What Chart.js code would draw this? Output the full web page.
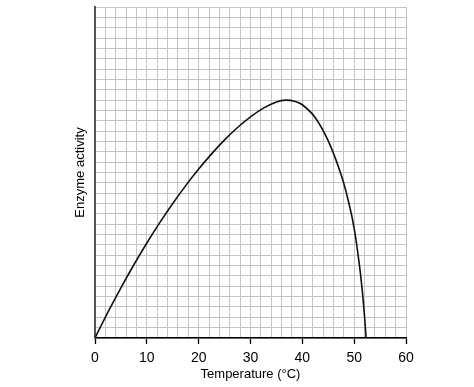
<!DOCTYPE html>
<html>
<head>
<meta charset="utf-8">
<script src="https://cdn.jsdelivr.net/npm/chart.js@4.4.1/dist/chart.umd.min.js"></script>
<style>
  body { margin: 0; background: #fff; }
  canvas { display: block; }
</style>
</head>
<body>
<canvas id="myChart" width="474" height="387"></canvas>
<script>
// data
const temperature = [0, 2.5, 5, 7.5, 10, 12.5, 15, 17.5, 20, 22.5, 25, 27.5, 30, 32.5, 35, 36.8, 38.5, 40, 42.5, 45, 47.5, 49, 50, 51, 51.5, 52, 52.3];
const activity = [0, 2.5, 4.85, 7.08, 9.18, 11.15, 13.0, 14.73, 16.33, 17.8, 19.15, 20.35, 21.38, 22.22, 22.82, 23.0, 22.88, 22.55, 21.3, 19.05, 15.75, 13.0, 10.6, 7.1, 4.9, 2.1, 0];
const xTickLabels = [0, 10, 20, 30, 40, 50, 60];

const FONT = 'Arial, "Liberation Sans", sans-serif';
const ctx = document.getElementById('myChart');

var points = [];
temperature.forEach(function (t, i) {
    points.push({ x: t, y: activity[i] });
});

new Chart(ctx, {
    type: 'line',
    data: {
        datasets: [{
            data: points,
            borderColor: '#111',
            borderWidth: 1.6,
            pointRadius: 0,
            fill: false,
            tension: 0.4
        }]
    },
    options: {
        responsive: false,
        animation: false,
        layout: { padding: { left: 0, top: 7, right: 68, bottom: 0 } },
        plugins: {
            legend: { display: false },
            tooltip: { enabled: false }
        },
        scales: {
            x: {
                type: 'linear',
                min: 0,
                max: 60,
                afterFit: function (scale) { scale.height = 49; },
                border: { color: '#000', width: 1.6 },
                grid: {
                    color: '#c4c4c4',
                    lineWidth: 1,
                    tickLength: 6,
                    tickColor: function (c) {
                        return xTickLabels.includes(c.tick.value) ? '#000' : 'rgba(0,0,0,0)';
                    },
                    tickWidth: 1.3
                },
                ticks: {
                    stepSize: 2,
                    autoSkip: false,
                    maxRotation: 0,
                    padding: 6,
                    color: '#000',
                    font: { family: FONT, size: 14 },
                    callback: function (v) { return xTickLabels.includes(v) ? String(v) : ''; }
                },
                title: {
                    display: true,
                    text: 'Temperature (°C)',
                    color: '#000',
                    font: { family: FONT, size: 13 },
                    padding: { top: 0, bottom: 5 }
                }
            },
            y: {
                min: 0,
                max: 32,
                afterFit: function (scale) { scale.width = 95; },
                border: { color: '#555', width: 2 },
                grid: { color: '#c4c4c4', lineWidth: 1, drawTicks: false },
                ticks: { display: false, stepSize: 1 },
                title: {
                    display: true,
                    text: 'Enzyme activity',
                    color: '#000',
                    font: { family: FONT, size: 13 },
                    padding: { top: 73, bottom: 0 }
                }
            }
        }
    }
});
</script>
</body>
</html>
